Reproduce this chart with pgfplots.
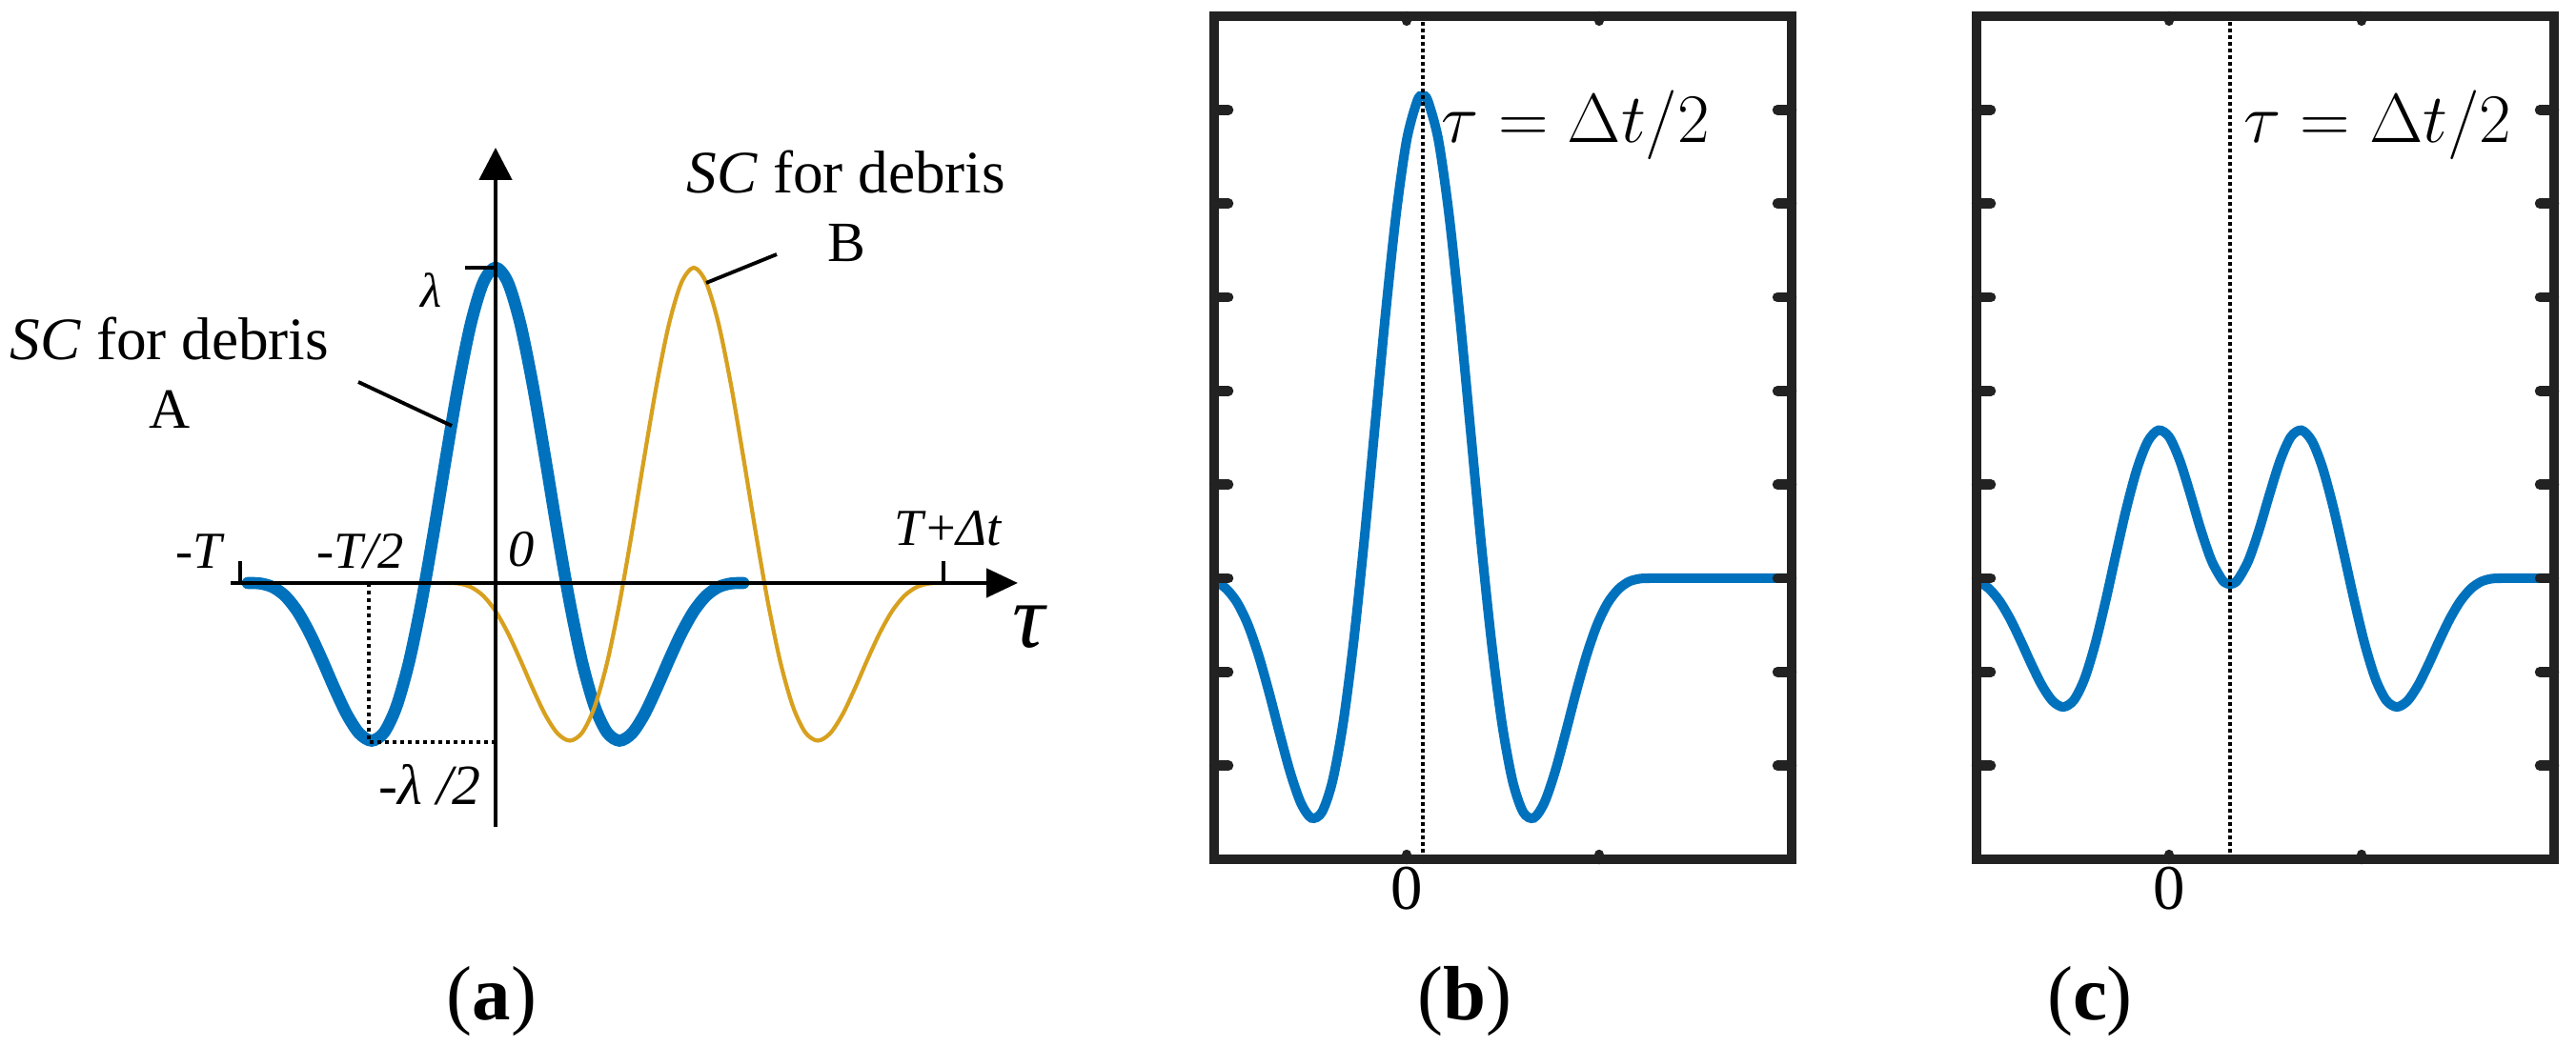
\documentclass[border=0pt]{standalone}
\usepackage{fontspec}
\setmainfont{Liberation Serif}
\usepackage{pgfplots}
\pgfplotsset{compat=1.18}
\usetikzlibrary{arrows.meta}
\definecolor{mblue}{RGB}{0,114,189}
\definecolor{mgold}{RGB}{215,160,30}
\definecolor{frm}{RGB}{34,34,34}
\newcommand{\fs}[1]{\fontsize{#1}{#1}\selectfont}

\pgfplotsset{
  panel/.style={
    scale only axis, width=60.6mm, height=88.5mm,
    xmin=-1, xmax=2, ymin=-3, ymax=6,
    axis on top, clip mode=individual,
    axis line style={line width=3.1pt, frm},
    ytick={-2,-1,0,1,2,3,4,5}, yticklabels={},
    xtick=\empty,
    tick align=inside, tick pos=both,
    major tick length=1.5mm,
    tick style={line width=3pt, frm, line cap=round},
  }
}

\begin{document}
\begin{tikzpicture}
\useasboundingbox (0,0) rectangle (270.3mm,109.8mm);

% ---------------- panel (a) ----------------
\begin{axis}[at={(0,0)}, anchor=south west, scale only axis,
  width=110mm, height=109.8mm,
  xmin=-520, xmax=580, ymin=-486, ymax=612, hide axis, clip=false]
\addplot[mblue, line width=3.6pt, smooth, line cap=round] coordinates {
(-260,0) (-247,-0.5) (-234,-4.2) (-221,-13.4) (-208,-29.6) (-195,-52.7)
(-182,-80.8) (-169,-110.7) (-156,-138.1) (-143,-157.9) (-130,-165.5)
(-117,-156.9) (-104,-129.7) (-91,-83.8) (-78,-21.5) (-65,52.7) (-52,131.9)
(-39,208.0) (-26,272.0) (-13,315.3) (0,331) (13,315.3) (26,272.0) (39,208.0)
(52,131.9) (65,52.7) (78,-21.5) (91,-83.8) (104,-129.7) (117,-156.9)
(130,-165.5) (143,-157.9) (156,-138.1) (169,-110.7) (182,-80.8) (195,-52.7)
(208,-29.6) (221,-13.4) (234,-4.2) (247,-0.5) (260,0)};
\addplot[mgold, line width=1.2pt, smooth] coordinates {
(-52,0) (-39,-0.5) (-26,-4.2) (-13,-13.4) (0,-29.6) (13,-52.7) (26,-80.8)
(39,-110.7) (52,-138.1) (65,-157.9) (78,-165.5) (91,-156.9) (104,-129.7)
(117,-83.8) (130,-21.5) (143,52.7) (156,131.9) (169,208.0) (182,272.0)
(195,315.3) (208,331) (221,315.3) (234,272.0) (247,208.0) (260,131.9)
(273,52.7) (286,-21.5) (299,-83.8) (312,-129.7) (325,-156.9) (338,-165.5)
(351,-157.9) (364,-138.1) (377,-110.7) (390,-80.8) (403,-52.7) (416,-29.6)
(429,-13.4) (442,-4.2) (455,-0.5) (468,0)};
% axes
\draw[black, line width=1.3pt, -{Triangle[length=3.3mm, width=3.0mm]}] (axis cs:-278,0) -- (axis cs:548,0);
\draw[black, line width=1.3pt, -{Triangle[length=3.4mm, width=3.4mm]}] (axis cs:0,-256) -- (axis cs:0,457);
\draw[black, line width=1.3pt] (axis cs:-268,0) -- (axis cs:-268,23);
\draw[black, line width=1.3pt] (axis cs:470,0) -- (axis cs:470,23);
\draw[black, line width=1.3pt] (axis cs:-32,331) -- (axis cs:0,331);
\draw[black, line width=0.9pt, dash pattern=on 0.4mm off 0.4mm] (axis cs:-133,0) -- (axis cs:-133,-167) -- (axis cs:0,-167);
\draw[black, line width=1.1pt] (axis cs:-144,211) -- (axis cs:-46,165);
\draw[black, line width=1.1pt] (axis cs:295,345) -- (axis cs:221,315);
% texts
\node[anchor=base, font=\fs{18}] at (axis cs:-342,234) {\textit{SC} for debris};
\node[anchor=base, font=\fs{17}] at (axis cs:-342,162) {A};
\node[anchor=base, font=\fs{18}] at (axis cs:368,409) {\textit{SC} for debris};
\node[anchor=base, font=\fs{17}] at (axis cs:368,337) {B};
\node[anchor=base, font=\fs{14.5}] at (axis cs:-67,289) {\textit{λ}};
\node[anchor=base, font=\fs{17}] at (axis cs:-69,-233) {\textit{-λ /2}};
\node[anchor=base, font=\fs{15.5}] at (axis cs:-310,15) {\textit{-T}};
\node[anchor=base, font=\fs{15.5}] at (axis cs:-142,15) {\textit{-T/2}};
\node[anchor=base, font=\fs{15.5}] at (axis cs:27,17) {\textit{0}};
\node[anchor=base, font=\fs{15.5}] at (axis cs:475,39) {\textit{T}+\textit{Δt}};
\node[anchor=base, font=\fs{27}] at (axis cs:561,-68) {\textit{τ}};
\end{axis}

% ---------------- panel (b) ----------------
\begin{axis}[panel, at={(127.4mm,19.6mm)}, anchor=south west]
\addplot[mblue, line width=2.85pt, smooth] coordinates {
(-1.1,0) (-1.045,-0.005) (-0.99,-0.036) (-0.935,-0.117) (-0.88,-0.262)
(-0.825,-0.493) (-0.77,-0.818) (-0.715,-1.218) (-0.66,-1.655) (-0.605,-2.071)
(-0.55,-2.397) (-0.495,-2.559) (-0.44,-2.496) (-0.385,-2.163) (-0.33,-1.548)
(-0.275,-0.668) (-0.22,0.417) (-0.165,1.618) (-0.11,2.817) (-0.055,3.881)
(0,4.677) (0.055,5.096) (0.0825,5.149) (0.11,5.096) (0.165,4.677)
(0.22,3.881) (0.275,2.817) (0.33,1.618) (0.385,0.417) (0.44,-0.668)
(0.495,-1.548) (0.55,-2.163) (0.605,-2.496) (0.66,-2.559) (0.715,-2.397)
(0.77,-2.071) (0.825,-1.655) (0.88,-1.218) (0.935,-0.818) (0.99,-0.493)
(1.045,-0.262) (1.1,-0.117) (1.155,-0.036) (1.21,-0.005) (1.265,0)
(1.5,0) (1.8,0) (2.1,0)};
\addplot[black, line width=1.1pt, dash pattern=on 0.35mm off 0.35mm] coordinates {(0.0825,-3) (0.0825,6)};
\node[anchor=base west, font=\fs{22}, inner sep=0pt] at (axis cs:0.178,4.65) {$\tau = \Delta t/2$};
\node[anchor=north, font=\fs{19}, inner sep=0pt, yshift=-0.75mm] at (axis cs:0,-3) {0};
\draw[frm, line width=3pt, line cap=round] (axis cs:0,-3) -- (axis cs:0,-2.95);
\draw[frm, line width=3pt, line cap=round] (axis cs:0,6) -- (axis cs:0,5.95);
\draw[frm, line width=3pt, line cap=round] (axis cs:1,-3) -- (axis cs:1,-2.95);
\draw[frm, line width=3pt, line cap=round] (axis cs:1,6) -- (axis cs:1,5.95);
\end{axis}

% ---------------- panel (c) ----------------
\begin{axis}[panel, at={(207.4mm,19.6mm)}, anchor=south west]
\addplot[mblue, line width=2.85pt, smooth] coordinates {
(-1.1,0) (-1.045,-0.004) (-0.99,-0.035) (-0.935,-0.112) (-0.88,-0.246)
(-0.825,-0.437) (-0.77,-0.671) (-0.715,-0.919) (-0.66,-1.146) (-0.605,-1.311)
(-0.55,-1.374) (-0.495,-1.302) (-0.44,-1.077) (-0.385,-0.711) (-0.33,-0.245)
(-0.275,0.266) (-0.22,0.760) (-0.165,1.177) (-0.11,1.463) (-0.055,1.580)
(0,1.509) (0.055,1.260) (0.11,0.901) (0.165,0.517) (0.22,0.190)
(0.275,-0.015) (0.3025,-0.058) (0.31625,-0.064) (0.33,-0.058) (0.3575,-0.015)
(0.4125,0.190) (0.4675,0.517) (0.5225,0.901) (0.5775,1.260) (0.6325,1.509)
(0.6875,1.580) (0.7425,1.463) (0.7975,1.177) (0.8525,0.760) (0.9075,0.266)
(0.9625,-0.245) (1.0175,-0.711) (1.0725,-1.077) (1.1275,-1.302) (1.1825,-1.374)
(1.2375,-1.311) (1.2925,-1.146) (1.3475,-0.919) (1.4025,-0.671) (1.4575,-0.437)
(1.5125,-0.246) (1.5675,-0.112) (1.6225,-0.035) (1.6775,-0.004) (1.7325,0)
(1.85,0) (2.1,0)};
\addplot[black, line width=1.1pt, dash pattern=on 0.35mm off 0.35mm] coordinates {(0.31625,-3) (0.31625,6)};
\node[anchor=base west, font=\fs{22}, inner sep=0pt] at (axis cs:0.384,4.65) {$\tau = \Delta t/2$};
\node[anchor=north, font=\fs{19}, inner sep=0pt, yshift=-0.75mm] at (axis cs:0,-3) {0};
\draw[frm, line width=3pt, line cap=round] (axis cs:0,-3) -- (axis cs:0,-2.95);
\draw[frm, line width=3pt, line cap=round] (axis cs:0,6) -- (axis cs:0,5.95);
\draw[frm, line width=3pt, line cap=round] (axis cs:1,-3) -- (axis cs:1,-2.95);
\draw[frm, line width=3pt, line cap=round] (axis cs:1,6) -- (axis cs:1,5.95);
\end{axis}

% sub-figure labels
\node[font=\fs{23}] at (51.6mm,4.7mm) {(\textbf{a})};
\node[font=\fs{23}] at (153.7mm,4.7mm) {(\textbf{b})};
\node[font=\fs{23}] at (219.3mm,4.7mm) {(\textbf{c})};
\end{tikzpicture}
\end{document}
